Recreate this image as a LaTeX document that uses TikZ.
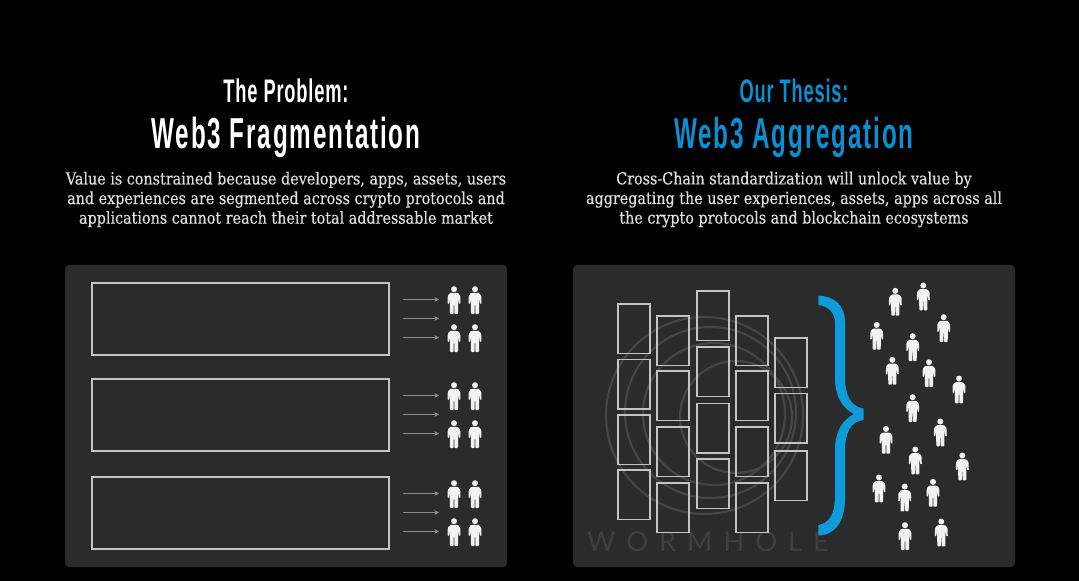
\documentclass[tikz,border=0pt]{standalone}
\usepackage{fontspec}
\usetikzlibrary{arrows.meta}
\setmainfont{Liberation Sans}
\newfontfamily\kickerfont[FakeStretch=0.56,LetterSpace=2.5]{Liberation Sans}
\newfontfamily\headfont[FakeStretch=0.56,LetterSpace=4.2]{Liberation Sans}
\newfontfamily\bodyfont[FakeStretch=0.86,FakeBold=0.25]{DejaVu Serif}
\newfontfamily\logofont{Lato}
\definecolor{panelgrey}{HTML}{2B2B2B}
\definecolor{thesisblue}{HTML}{0A8FD2}
\definecolor{bracetint}{HTML}{0E9BDA}
\definecolor{boxline}{HTML}{C4C4C4}
\definecolor{ringline}{HTML}{464646}
\definecolor{logotint}{HTML}{3F3F3F}
\tikzset{
  panel/.style={fill=panelgrey,rounded corners=3pt},
  bandbox/.style={draw=boxline,line width=1.3pt,outer sep=0pt},
  chainbox/.style={draw=boxline,line width=1.3pt,outer sep=0pt},
  flow/.style={draw=gray!90,line width=.9pt,-{Stealth[length=3.5pt,width=3.5pt]}},
  ring/.style={draw=ringline,line width=1.6pt},
  kicker/.style={font=\kickerfont\bfseries\fontsize{24.5}{26}\selectfont,anchor=base,inner sep=0pt},
  headline/.style={font=\headfont\fontsize{32.5}{36}\selectfont\bfseries,anchor=base,inner sep=0pt},
  bodytext/.style={font=\bodyfont\fontsize{12.5}{14.7}\selectfont,align=center,anchor=center,inner sep=0pt,text=white!88!black},
  pics/person/.style={code={
    \fill[white!95!black] (0,3.2) circle (3);
    \fill[white!95!black,rounded corners=.6pt]
      (-3.6,6.8) -- (3.6,6.8) -- (6.2,9.5) -- (6.5,18) -- (5,18) -- (4.2,12) -- (4,28) -- (.35,28) -- (.25,18.5)
      -- (-.25,18.5) -- (-.35,28) -- (-4,28) -- (-4.2,12) -- (-5,18) -- (-6.5,18) -- (-6.2,9.5) -- cycle;
  }},
}
\begin{document}
\begin{tikzpicture}[x=.75pt,y=-.75pt,line join=miter]
\useasboundingbox (0,0) rectangle (1079,581);
\fill[black] (0,0) rectangle (1079,581);
\fill[panel] (65,265) rectangle (507,567);
\fill[panel] (573,265) rectangle (1015,567);

% titles
\node[kicker,text=white] (k1) at (286,102.7) {The Problem:};
\node[headline,text=white] (h1) at (286,148.5) {Web3 Fragmentation};
\node[bodytext] (b1) at (286,199.5) {Value is constrained because developers, apps, assets, users\\and experiences are segmented across crypto protocols and\\applications cannot reach their total addressable market};
\node[kicker,text=thesisblue] (k2) at (794,102.7) {Our Thesis:};
\node[headline,text=thesisblue] (h2) at (794,148.5) {Web3 Aggregation};
\node[bodytext] (b2) at (794,199.5) {Cross-Chain standardization will unlock value by\\aggregating the user experiences, assets, apps across all\\the crypto protocols and blockchain ecosystems};

% left bands
\foreach \t/\n in {283/a,379/b,477/c}{
  \node[bandbox,minimum width=297*.75pt,minimum height=72*.75pt,inner sep=0pt,anchor=north west] (band\n) at (92,\t) {};
}
\foreach \y in {300,396,494}{
  \foreach \d in {0,19,38}{
    \coordinate (s) at (403,\y+\d-.5);
    \coordinate (e) at (439,\y+\d-.5);
    \draw[flow] (s) -- (e);
  }
  \foreach \d in {-14,24}{
    \pic at (454,\y+\d) {person};
    \pic at (475,\y+\d) {person};
  }
}

% logo
\draw[ring] (704.5,415.5) circle (98.5);
\draw[ring] (710.5,412.5) circle (85.5);
\draw[ring] (714,414) circle (71);
\draw[ring] (736,417) circle (56);
\node[font=\logofont\fontsize{20.5}{24}\selectfont,text=logotint,inner sep=0pt,anchor=center] (logo) at (708,541.5) {W\hspace{.4em}O\hspace{.4em}R\hspace{.4em}M\hspace{.4em}H\hspace{.4em}O\hspace{.4em}L\hspace{.4em}E};

% right boxes
\foreach \l/\t/\n in {
  618/304/a,618/359.5/b,618/415/c,618/470/d,
  657/316/e,657/371/f,657/427/g,657/483/h,
  697/291/i,697/347/j,697/403.5/k,697/459/l,
  736/316/m,736/371/n,736/427/o,736/483/p,
  775/338/q,775/393.5/r,775/451/s}{
  \node[chainbox,minimum width=32*.75pt,minimum height=49.5*.75pt,inner sep=0pt,anchor=north west] (chain\n) at (\l,\t) {};
}

% brace
\fill[bracetint] (818.3,295.7)
  .. controls (835,296) and (845,306) .. (845,322)
  -- (845,378)
  .. controls (845,395) and (851,407) .. (863.5,408.5)
  -- (863.5,420)
  .. controls (851,421) and (845,433) .. (845,450)
  -- (845,498)
  .. controls (845,522) and (835,535) .. (818.3,535.5)
  -- (818.3,525)
  .. controls (829,523) and (835,515) .. (835,495)
  -- (835,450)
  .. controls (835,432) and (842,420) .. (854,414)
  .. controls (842,408) and (835,396) .. (835,378)
  -- (835,322)
  .. controls (835,314) and (829,306) .. (818.3,305);

% crowd
\foreach \x/\y in {895.3/287.7,923.3/282.3,876.7/321.7,943.7/314,912.7/333,892.3/356.7,929/359,959/375.3,912.7/394,940.3/418.3,886/425.7,915.3/446.3,962.3/452.3,879/474.3,904.7/483.3,933/478.7,905/522,941.3/518.3}{
  \pic at (\x,\y) {person};
}
\end{tikzpicture}
\end{document}
